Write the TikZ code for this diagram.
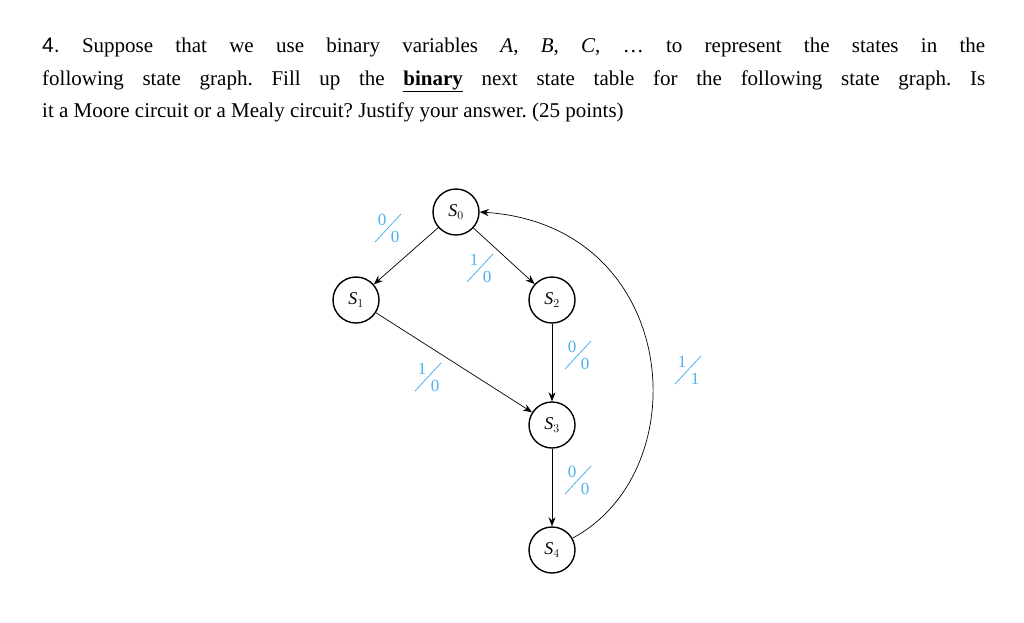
\documentclass[tikz,border=0pt]{standalone}
\usepackage{fontspec}
\setmainfont{Liberation Serif}
\newfontfamily\hv{Liberation Sans}
\usetikzlibrary{arrows.meta,calc}
\definecolor{lblue}{HTML}{4DB2EC}
\newcommand{\frlab}[3]{%
  \node[lblue,font=\fontsize{17}{17}\selectfont] at ($(#1)+(-6,-8)$) {#2};
  \node[lblue,font=\fontsize{17}{17}\selectfont] at ($(#1)+(7,9)$) {#3};
  \draw[lblue,line width=0.8pt] ($(#1)+(-13,14)$) -- ($(#1)+(13,-14)$);}
\begin{document}
\begin{tikzpicture}[x=1pt,y=-1pt,
  st/.style={circle,draw,line width=1.4pt,minimum size=46pt,inner sep=0pt,font=\fontsize{18}{18}\selectfont},
  ar/.style={-{Stealth[length=9pt,width=7pt]},line width=0.7pt}]
\frenchspacing
\useasboundingbox (0,0) rectangle (1024,622);
\tikzset{tl/.style={anchor=base west,inner sep=0pt,font=\fontsize{21}{26}\selectfont}}
\node[tl] (l1) at (42,52) {\makebox[943pt][s]{{\hv 4.} Suppose that we use binary variables \textit{A}, \textit{B}, \textit{C}, \ldots\ to represent the states in the}};
\node[tl] (l2) at (42,85) {\makebox[943pt][s]{following state graph. Fill up the \textbf{\underline{binary}} next state table for the following state graph. Is}};
\node[tl] (l3) at (42,117) {\frenchspacing it a Moore circuit or a Mealy circuit? Justify your answer. (25 points)};
\node[st] (s0) at (456,212) {\textit{S}$_0$};
\node[st] (s1) at (356,300) {\textit{S}$_1$};
\node[st] (s2) at (552,300) {\textit{S}$_2$};
\node[st] (s3) at (552,425) {\textit{S}$_3$};
\node[st] (s4) at (552,550) {\textit{S}$_4$};
\draw[ar] (s0) -- (s1);
\draw[ar] (s0) -- (s2);
\draw[ar] (s1) -- (s3);
\draw[ar] (s2) -- (s3);
\draw[ar] (s3) -- (s4);
\draw[ar] (s4.30) .. controls (700,470) and (680,225) .. (s0.east);
\frlab{388,228}{0}{0}
\frlab{480,268}{1}{0}
\frlab{578,355}{0}{0}
\frlab{428,377}{1}{0}
\frlab{578,480}{0}{0}
\frlab{688,370}{1}{1}
\end{tikzpicture}
\end{document}
